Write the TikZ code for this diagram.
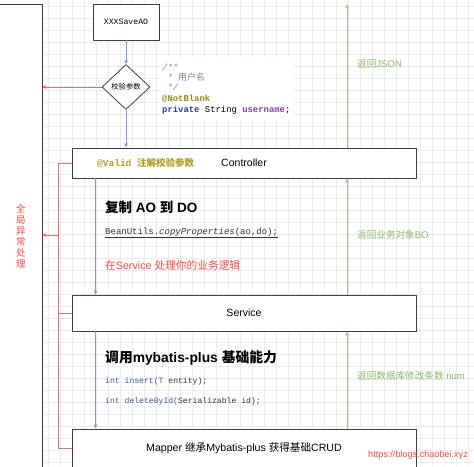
\documentclass[tikz,border=0pt]{standalone}
\usepackage{fontspec}
\setmainfont{Liberation Sans}
\setmonofont{Liberation Mono}
\newfontfamily\cjk{Noto Sans CJK SC}
\usetikzlibrary{shapes.geometric,arrows.meta}
\definecolor{gridc}{HTML}{EBEBEB}
\definecolor{boxc}{HTML}{404040}
\definecolor{bluec}{HTML}{7C9CD0}
\definecolor{greenc}{HTML}{9CC486}
\definecolor{greent}{HTML}{88BB66}
\definecolor{redl}{HTML}{E07070}
\definecolor{redt}{HTML}{F04A4A}
\definecolor{goldc}{HTML}{B39F22}
\definecolor{olivec}{HTML}{9A8A10}
\definecolor{navyc}{HTML}{2A3FA0}
\definecolor{purpc}{HTML}{8A3FA0}
\definecolor{commc}{HTML}{808080}
\definecolor{codeb}{HTML}{3A5A9A}
\definecolor{codet}{HTML}{333333}
\tikzset{
  box/.style={draw=boxc, fill=white, line width=0.8pt, inner sep=0pt},
  txt/.style={inner sep=0pt, anchor=west},
  barrow/.style={draw=bluec, line width=0.8pt, -{Stealth[length=4.5pt,width=4pt]}},
  garrow/.style={draw=greenc, line width=0.8pt, -{Stealth[length=4.5pt,width=4pt]}},
  rline/.style={draw=redl, line width=0.7pt},
  rarrow/.style={draw=redl, line width=0.7pt, -{Stealth[length=4.5pt,width=4pt]}},
}
\begin{document}
\begin{tikzpicture}[x=1pt,y=-1pt]
\useasboundingbox (0,0) rectangle (474,466);
\clip (0,0) rectangle (474,466);
\fill[white] (0,0) rectangle (474,466);
% grid
\foreach \gx in {48,60,...,474} \draw[gridc, line width=0.5pt] (\gx,0) -- (\gx,466);
\foreach \gy in {6,18,...,466} \draw[gridc, line width=0.5pt] (42,\gy) -- (474,\gy);
% white code background
\fill[white] (160,57) rectangle (294,120);
% left frame
\draw[boxc, line width=0.8pt] (-2,4) -- (42,4) -- (42,470);
\coordinate (fr) at (42,0);
% boxes
\node[box, minimum width=66pt, minimum height=36pt] (ao) at (126,22) {\ttfamily\fontsize{8.2}{10}\selectfont XXXSaveAO};
\node[box, diamond, minimum width=48pt, minimum height=45pt] (chk) at (126,87) {\cjk\fontsize{7.3}{9}\selectfont 校验参数};
\node[box, minimum width=344pt, minimum height=30pt] (ctrl) at (244,163) {\fontsize{10.5}{12}\selectfont Controller};
\node[box, minimum width=344pt, minimum height=36pt] (svc) at (244,313) {\fontsize{10.5}{12}\selectfont Service};
\node[box, minimum width=344pt, minimum height=38pt] (map) at (244,448) {\fontsize{10.6}{12}\selectfont Mapper {\cjk 继承}Mybatis-plus {\cjk 获得基础}CRUD};
\node[txt, text=goldc] (valid) at (97,163) {\fontsize{9.5}{11}\selectfont{\ttfamily\bfseries @Valid }{\cjk\bfseries 注解校验参数}};
% code block
\node[txt, text=commc] (c1) at (162,67) {\fontsize{8.9}{10}\selectfont\ttfamily\itshape /**};
\node[txt, text=commc] (c2) at (162,77.5) {\fontsize{8.9}{10}\selectfont\ttfamily\itshape ~* {\cjk 用户名}};
\node[txt, text=commc] (c3) at (162,87.5) {\fontsize{8.9}{10}\selectfont\ttfamily\itshape ~*/};
\node[txt, text=olivec] (c4) at (162,98.5) {\fontsize{8.9}{10}\selectfont\ttfamily\bfseries @NotBlank};
\node[txt] (c5) at (162,110) {\fontsize{8.9}{10}\selectfont\ttfamily{\bfseries\color{navyc}private} String {\bfseries\color{purpc}username};};
% arrows blue
\draw[barrow] (ao) -- (chk);
\draw[barrow] (chk.south) -- (chk.south |- ctrl.north);
\coordinate (cx) at (95.5,0);
\draw[barrow] (ctrl.south -| cx) -- (svc.north -| cx);
\draw[barrow] (svc.south -| cx) -- (map.north -| cx);
% arrows green
\coordinate (gx) at (347,4);
\draw[garrow] (ctrl.north -| gx) -- (gx);
\draw[garrow] (svc.north -| gx) -- (ctrl.south -| gx);
\draw[garrow] (map.north -| gx) -- (svc.south -| gx);
% red
\draw[rarrow] (chk.west) -- (chk.west -| fr);
\coordinate (rx) at (58,235);
\draw[rline] (ctrl.west) -- (ctrl.west -| rx) -- (map.west -| rx) -- (map.west);
\draw[rline] (svc.west) -- (svc.west -| rx);
\draw[rarrow] (rx) -- (rx -| fr);
\node[inner sep=0pt, text=redt, align=center, font=\cjk\fontsize{9.5}{11}\selectfont] (gl) at (21,236) {全\\局\\异\\常\\处\\理};
% green labels
\node[txt, text=greent] (l1) at (357,64) {\fontsize{9.6}{11}\selectfont{\cjk 返回}JSON};
\node[txt, text=greent] (l2) at (357,235) {\fontsize{9.6}{11}\selectfont{\cjk 返回业务对象}BO};
\node[txt, text=greent] (l3) at (357,376) {\fontsize{9.6}{11}\selectfont{\cjk 返回数据库修改条数} num};
% middle texts
\node[txt] (h1) at (105,207) {\fontsize{13.5}{15}\selectfont\bfseries{\cjk 复制} AO {\cjk 到} DO};
\node[txt, text=codet] (bu) at (105,233) {\fontsize{9}{10}\selectfont\ttfamily\underline{BeanUtils.\textit{copyProperties}(ao,do);}};
\node[txt, text=redt] (h2) at (105,265) {\fontsize{10.7}{12}\selectfont{\cjk 在}Service {\cjk 处理你的业务逻辑}};
\node[txt] (h3) at (105,358) {\fontsize{13.8}{15}\selectfont\bfseries{\cjk 调用}mybatis-plus {\cjk 基础能力}};
\node[txt, text=codet] (i1) at (105,381) {\fontsize{8.1}{10}\selectfont\ttfamily{\color{codeb}int insert(T} entity);};
\node[txt, text=codet] (i2) at (105,401) {\fontsize{8.1}{10}\selectfont\ttfamily{\color{codeb}int deleteById(}Serializable id);};
% watermark
\node[txt, text=redt] (wm) at (368,455) {\fontsize{9.1}{10}\selectfont https://blogs.chaobei.xyz};
\end{tikzpicture}
\end{document}
